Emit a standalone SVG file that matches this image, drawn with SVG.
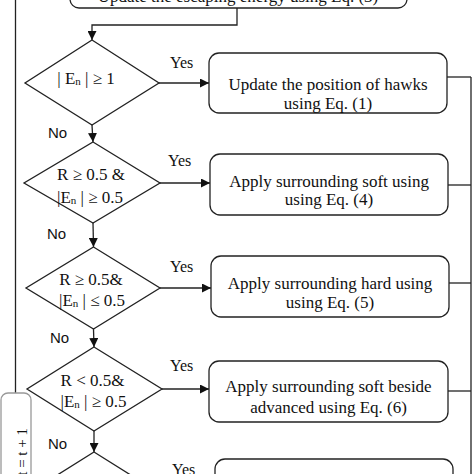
<svg xmlns="http://www.w3.org/2000/svg" width="474" height="474" viewBox="0 0 474 474">
<defs>
<marker id="arr" viewBox="0 0 10 10" refX="10" refY="5" markerWidth="9" markerHeight="9" markerUnits="userSpaceOnUse" orient="auto">
<path d="M0,0 L10,5 L0,10 Z" fill="#111"/>
</marker>
</defs>
<style>
.box{fill:#fff;stroke:#222;stroke-width:1.3}
.dia{fill:#fff;stroke:#222;stroke-width:1.3}
.ln{fill:none;stroke:#222;stroke-width:1.3}
.ar{fill:none;stroke:#222;stroke-width:1.3;marker-end:url(#arr)}
.t{font-family:"Liberation Serif","Times New Roman",serif;font-size:17px;fill:#111;text-anchor:middle}
.y{font-family:"Liberation Serif","Times New Roman",serif;font-size:16px;fill:#111}
.no{font-family:"Liberation Sans",Arial,sans-serif;font-size:15px;fill:#111}
.sub{font-size:11px}
</style>
<rect width="474" height="474" fill="#fff"/>
<g id="connectors">
<polyline class="ar" points="237,8 237,25 92,25 92,40"/>
<line class="ar" x1="92" y1="125" x2="93" y2="142"/>
<line class="ar" x1="93" y1="223" x2="93.5" y2="247"/>
<line class="ar" x1="93.5" y1="329" x2="94" y2="347"/>
<line class="ar" x1="94" y1="431" x2="94" y2="452"/>
<line class="ar" x1="159" y1="83" x2="209" y2="83"/>
<line class="ar" x1="160" y1="183" x2="210" y2="183"/>
<line class="ar" x1="160" y1="288" x2="211" y2="288"/>
<line class="ar" x1="162" y1="389" x2="209" y2="389"/>
<line class="ln" x1="447" y1="77" x2="471" y2="77"/>
<line class="ln" x1="448" y1="185" x2="471" y2="185"/>
<line class="ln" x1="449" y1="283" x2="471" y2="283"/>
<line class="ln" x1="448" y1="391" x2="471" y2="391"/>
<line class="ln" x1="471" y1="77" x2="471" y2="474"/>
<line class="ln" x1="15.5" y1="0" x2="15.5" y2="393"/>
<text class="y" x="170" y="68">Yes</text>
<text class="y" x="168" y="166">Yes</text>
<text class="y" x="170" y="272">Yes</text>
<text class="y" x="170" y="371">Yes</text>
<text class="y" x="172" y="475">Yes</text>
<text class="no" x="48" y="138">No</text>
<text class="no" x="47" y="239">No</text>
<text class="no" x="50" y="343">No</text>
<text class="no" x="48" y="449">No</text>
</g>
<g id="energy">
<rect class="box" x="70" y="-40" width="337" height="48" rx="9"/>
<text class="t" x="238" y="2">Update the escaping energy using Eq. (3)</text>
</g>
<g id="d1">
<polygon class="dia" points="92,40 159,83 92,125 25,83"/>
<text class="t" x="86" y="84">| E<tspan class="sub" dy="1">n</tspan><tspan dy="-1"> | ≥ 1</tspan></text>
</g>
<g id="b1">
<rect class="box" x="209" y="53" width="238" height="60" rx="10"/>
<text class="t" x="328" y="90">Update the position of hawks</text>
<text class="t" x="328" y="109">using Eq. (1)</text>
</g>
<g id="d2">
<polygon class="dia" points="93,142 160,183 93,223 24,183"/>
<text class="t" x="91" y="180">R ≥ 0.5 &amp;</text>
<text class="t" x="90" y="203">|E<tspan class="sub" dy="1">n</tspan><tspan dy="-1"> | ≥ 0.5</tspan></text>
</g>
<g id="b2">
<rect class="box" x="210" y="154" width="238" height="61" rx="10"/>
<text class="t" x="329" y="187">Apply surrounding soft using</text>
<text class="t" x="329" y="205">using Eq. (4)</text>
</g>
<g id="d3">
<polygon class="dia" points="93.5,247 160,288 93.5,329 26,288"/>
<text class="t" x="91" y="285">R ≥ 0.5&amp;</text>
<text class="t" x="92" y="306">|E<tspan class="sub" dy="1">n</tspan><tspan dy="-1"> | ≤ 0.5</tspan></text>
</g>
<g id="b3">
<rect class="box" x="211" y="256" width="238" height="61" rx="10"/>
<text class="t" x="330" y="289">Apply surrounding hard using</text>
<text class="t" x="330" y="308">using Eq. (5)</text>
</g>
<g id="d4">
<polygon class="dia" points="94,347 162,389 94,431 27,389"/>
<text class="t" x="92.5" y="386">R &lt; 0.5&amp;</text>
<text class="t" x="93.5" y="407">|E<tspan class="sub" dy="1">n</tspan><tspan dy="-1"> | ≥ 0.5</tspan></text>
</g>
<g id="b4">
<rect class="box" x="209" y="361" width="239" height="61" rx="10"/>
<text class="t" x="328.5" y="392">Apply surrounding soft beside</text>
<text class="t" x="328.5" y="413">advanced using Eq. (6)</text>
</g>
<g id="d5">
<polygon class="dia" points="94,452 161,494 94,536 27,494"/>
</g>
<g id="b5">
<rect class="box" x="215" y="459" width="238" height="60" rx="10"/>
</g>
<g id="tinc">
<rect x="1" y="393" width="30" height="110" rx="7" fill="#fff" stroke="#999" stroke-width="1.3"/>
<text transform="translate(27,428) rotate(-90)" text-anchor="end" font-family="Liberation Serif, Times New Roman, serif" font-size="15" fill="#111">t = t + 1</text>
</g>
</svg>
